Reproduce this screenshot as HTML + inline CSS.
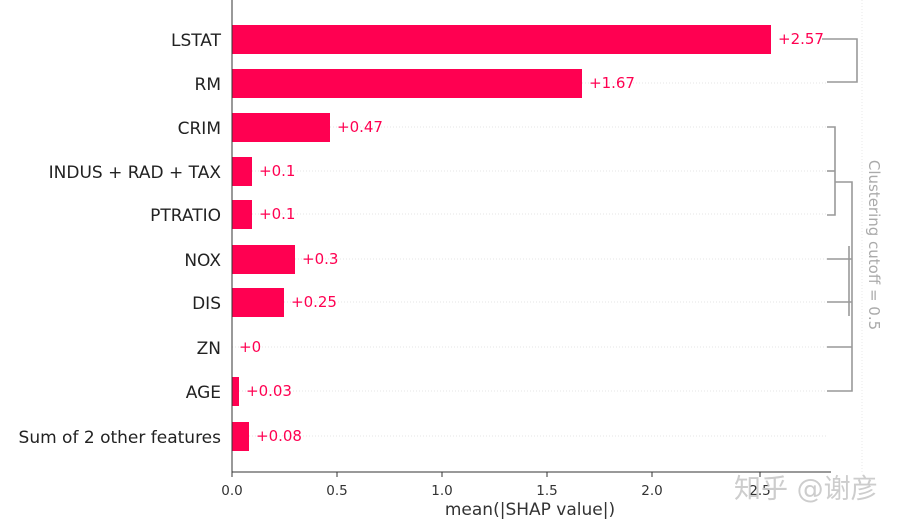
<!DOCTYPE html>
<html><head><meta charset="utf-8"><style>
html,body{margin:0;padding:0;background:#fff;width:898px;height:524px;overflow:hidden}
text{font-family:"DejaVu Sans","Liberation Sans",sans-serif}
</style></head><body>
<svg width="898" height="524" viewBox="0 0 898 524" xmlns="http://www.w3.org/2000/svg">
<g stroke="#e6e6e6" stroke-width="1" stroke-dasharray="1,2">
<line x1="582" y1="83" x2="827" y2="83"/>
<line x1="330" y1="127" x2="827" y2="127"/>
<line x1="252" y1="171" x2="827" y2="171"/>
<line x1="252" y1="214" x2="827" y2="214"/>
<line x1="295" y1="259" x2="827" y2="259"/>
<line x1="284" y1="302" x2="827" y2="302"/>
<line x1="232" y1="347" x2="827" y2="347"/>
<line x1="239" y1="391" x2="827" y2="391"/>
<line x1="249" y1="436" x2="827" y2="436"/>
</g>
<line x1="862" y1="0" x2="862" y2="472" stroke="#e8e8e8" stroke-dasharray="1,2"/>
<g fill="#ff0051">
<rect x="232" y="25" width="539" height="29"/>
<rect x="232" y="69" width="350" height="29"/>
<rect x="232" y="113" width="98" height="29"/>
<rect x="232" y="157" width="20" height="29"/>
<rect x="232" y="200" width="20" height="29"/>
<rect x="232" y="245" width="63" height="29"/>
<rect x="232" y="288" width="52" height="29"/>
<rect x="232" y="377" width="7" height="29"/>
<rect x="232" y="422" width="17" height="29"/>
</g>
<g fill="#ff0051" font-size="15" dominant-baseline="central">
<text x="778" y="39">+2.57</text>
<text x="589" y="83">+1.67</text>
<text x="337" y="127">+0.47</text>
<text x="259" y="171">+0.1</text>
<text x="259" y="214">+0.1</text>
<text x="302" y="259">+0.3</text>
<text x="291" y="302">+0.25</text>
<text x="239" y="347">+0</text>
<text x="246" y="391">+0.03</text>
<text x="256" y="436">+0.08</text>
</g>
<g fill="#222" font-size="17" text-anchor="end" dominant-baseline="central">
<text x="221" y="41">LSTAT</text>
<text x="221" y="85">RM</text>
<text x="221" y="129">CRIM</text>
<text x="221" y="173">INDUS + RAD + TAX</text>
<text x="221" y="216">PTRATIO</text>
<text x="221" y="261">NOX</text>
<text x="221" y="304">DIS</text>
<text x="221" y="349">ZN</text>
<text x="221" y="393">AGE</text>
<text x="221" y="438">Sum of 2 other features</text>
</g>
<g stroke="#999" stroke-width="1.6" fill="none">
<polyline points="822,39 857,39 857,82 827,82"/>
<polyline points="827,127 835,127 835,215 827,215"/>
<line x1="827" y1="171" x2="835" y2="171"/>
<polyline points="835,182 852,182 852,391 827,391"/>
<line x1="827" y1="259" x2="852" y2="259"/>
<line x1="827" y1="302" x2="852" y2="302"/>
<line x1="827" y1="347" x2="852" y2="347"/>
<line x1="849" y1="246" x2="849" y2="316"/>
</g>
<text x="874" y="245" fill="#aaa" font-size="15" text-anchor="middle" dominant-baseline="central" transform="rotate(90 874 245)">Clustering cutoff = 0.5</text>
<line x1="232" y1="0" x2="232" y2="472" stroke="#333" stroke-width="1"/>
<line x1="232" y1="472" x2="831" y2="472" stroke="#333" stroke-width="1"/>
<g stroke="#333"><line x1="232" y1="472" x2="232" y2="477"/><line x1="337" y1="472" x2="337" y2="477"/><line x1="442" y1="472" x2="442" y2="477"/><line x1="547" y1="472" x2="547" y2="477"/><line x1="652" y1="472" x2="652" y2="477"/><line x1="760" y1="472" x2="760" y2="477"/></g>
<g fill="#333" font-size="13.5" text-anchor="middle">
<text x="232" y="495">0.0</text><text x="337" y="495">0.5</text><text x="442" y="495">1.0</text><text x="547" y="495">1.5</text><text x="652" y="495">2.0</text><text x="760" y="495">2.5</text>
</g>
<text x="530" y="515" fill="#333" font-size="17" text-anchor="middle">mean(|SHAP value|)</text>
<text x="734" y="498" fill="#c8c8c8" font-size="27" font-family="'Noto Sans CJK SC',sans-serif" opacity="0.9">知乎 @谢彦</text>
</svg>
</body></html>
